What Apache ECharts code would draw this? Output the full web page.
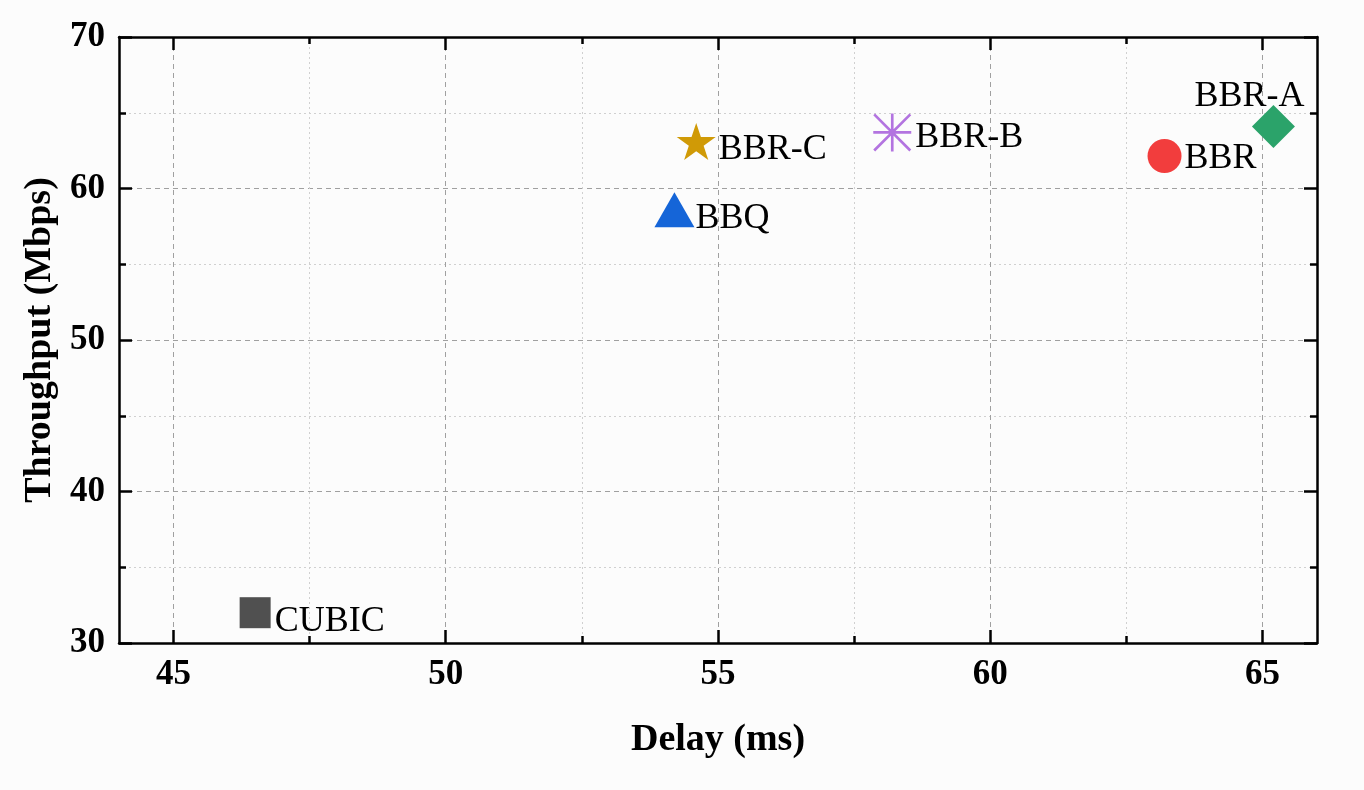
<!DOCTYPE html>
<html>
<head>
<meta charset="utf-8">
<script src="https://cdn.jsdelivr.net/npm/echarts@6/dist/echarts.min.js"></script>
<style>
  html, body { margin: 0; padding: 0; background: #fcfcfc; }
  #main { width: 1364px; height: 790px; }
</style>
</head>
<body>
<div id="main"></div>
<script>
// protocol results (delay ms, throughput Mbps)
var names = ['CUBIC', 'BBQ', 'BBR-C', 'BBR-B', 'BBR', 'BBR-A'];
var delays = [46.5, 54.2, 54.6, 58.2, 63.2, 65.2];
var throughputs = [32.0, 58.6, 63.1, 63.7, 62.15, 64.1];

var xMajor = [45, 50, 55, 60, 65];
var xMinor = [47.5, 52.5, 57.5, 62.5];

var FONT = '"Liberation Serif", "Times New Roman", serif';

// asterisk marker made of four thin bars
var asterisk = 'path://M0 46.5L100 46.5L100 53.5L0 53.5Z' +
  'M46.5 0L53.5 0L53.5 100L46.5 100Z' +
  'M0 5L5 0L100 95L95 100Z' +
  'M95 0L100 5L5 100L0 95Z';

var star = 'path://M50 0L62 36L100 36L69 58.5L81 95L50 72.5L19 95L31 58.5L0 36L38 36Z';

var looks = {
  'CUBIC': { symbol: 'rect', size: 31, color: '#505050', pos: 'right', dist: 4, off: [0, 9] },
  'BBQ':   { symbol: 'triangle', size: [40, 35], color: '#1565d8', pos: 'right', dist: 1, off: [0, 9] },
  'BBR-C': { symbol: star, size: [39, 37], color: '#d09a06', pos: 'right', dist: 3, off: [0, 8] },
  'BBR-B': { symbol: asterisk, size: 38, color: '#b374e0', pos: 'right', dist: 4, off: [0, 5] },
  'BBR':   { symbol: 'circle', size: 34, color: '#f23d3d', pos: 'right', dist: 3, off: [0, 3] },
  'BBR-A': { symbol: 'diamond', size: 43, color: '#2ba36a', pos: 'inside', dist: 0, off: [-24, -30] }
};

var series = names.map(function (n, i) {
  var lk = looks[n];
  return {
    name: n,
    type: 'scatter',
    xAxisIndex: 0,
    yAxisIndex: 0,
    symbol: lk.symbol,
    symbolSize: lk.size,
    itemStyle: { color: lk.color, opacity: 1 },
    label: {
      show: true,
      formatter: n,
      position: lk.pos,
      distance: lk.dist,
      offset: lk.off,
      color: '#000',
      fontFamily: FONT,
      fontSize: 36
    },
    data: [[delays[i], throughputs[i]]],
    z: 5
  };
});

var chart = echarts.init(document.getElementById('main'));

var hidden = { show: false };
var frameLine = { show: true, lineStyle: { color: '#000', width: 2.5 } };

function xMajorAxis(pos, labels) {
  return {
    type: 'value', position: pos, min: 44, max: 66,
    axisLine: frameLine,
    axisTick: { show: true, inside: true, length: 13, customValues: xMajor, lineStyle: { color: '#000', width: 2.5 } },
    axisLabel: labels ? {
      show: true, customValues: xMajor, margin: 14,
      color: '#000', fontFamily: FONT, fontWeight: 'bold', fontSize: 35
    } : hidden,
    splitLine: labels ? { show: true, lineStyle: { color: '#a0a0a0', type: [5, 4], width: 1 } } : hidden,
    name: labels ? 'Delay (ms)' : '',
    nameLocation: 'middle', nameGap: 78,
    nameTextStyle: { color: '#000', fontFamily: FONT, fontWeight: 'bold', fontSize: 38 }
  };
}

function xMinorAxis(pos, grid) {
  return {
    type: 'value', position: pos, min: 44, max: 66,
    axisLine: hidden,
    axisTick: { show: true, inside: true, length: 7, customValues: xMinor, lineStyle: { color: '#000', width: 2.5 } },
    axisLabel: { show: false, customValues: xMinor },
    splitLine: grid ? { show: true, lineStyle: { color: '#d0d0d0', type: [2, 3], width: 1 } } : hidden
  };
}

function yAxis(pos, labels) {
  return {
    type: 'value', position: pos, min: 30, max: 70, interval: 10,
    axisLine: frameLine,
    axisTick: { show: true, inside: true, length: 13, lineStyle: { color: '#000', width: 2.5 } },
    minorTick: { show: true, splitNumber: 2, length: 7, lineStyle: { color: '#000', width: 2.5 } },
    axisLabel: labels ? {
      show: true, margin: 14, color: '#000', fontFamily: FONT, fontWeight: 'bold', fontSize: 35
    } : hidden,
    splitLine: labels ? { show: true, lineStyle: { color: '#a0a0a0', type: [5, 4], width: 1 } } : hidden,
    minorSplitLine: labels ? { show: true, lineStyle: { color: '#d0d0d0', type: [2, 3], width: 1 } } : hidden,
    name: labels ? 'Throughput (Mbps)' : '',
    nameLocation: 'middle', nameGap: 58, nameRotate: 90,
    nameTextStyle: { color: '#000', fontFamily: FONT, fontWeight: 'bold', fontSize: 38 }
  };
}

var option = {
  backgroundColor: '#fcfcfc',
  animation: false,
  grid: { left: 119, right: 47, top: 37, bottom: 147, containLabel: false },
  xAxis: [
    xMajorAxis('bottom', true),
    xMajorAxis('top', false),
    xMinorAxis('bottom', true),
    xMinorAxis('top', false)
  ],
  yAxis: [
    yAxis('left', true),
    yAxis('right', false)
  ],
  series: series
};

chart.setOption(option);
</script>
</body>
</html>
